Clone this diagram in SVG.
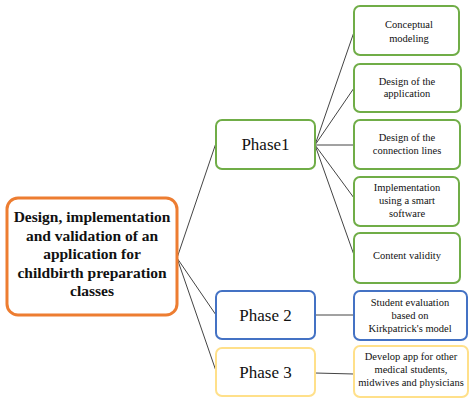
<svg xmlns="http://www.w3.org/2000/svg" width="474" height="403" viewBox="0 0 474 403">
<style>
.box{fill:#fff;stroke-width:2}
.g{stroke:#70ad47}.b{stroke:#4472c4}.y{stroke:#ffe08a}.o{stroke:#ed7d31;stroke-width:3}
.t{fill:#111;text-anchor:middle}
.s{font-size:10.5px}.p{font-size:17px}.m{font-size:15.5px;font-weight:bold}
#connectors line{stroke:#444;stroke-width:1}
</style>
<rect width="474" height="403" fill="#fff"/>
<g id="connectors">
<line x1="177" y1="258" x2="216" y2="143"/>
<line x1="177" y1="258" x2="216" y2="315"/>
<line x1="177" y1="258" x2="216" y2="371"/>
<line x1="315" y1="145" x2="354" y2="32"/>
<line x1="315" y1="145" x2="354" y2="88"/>
<line x1="315" y1="145" x2="354" y2="145"/>
<line x1="315" y1="145" x2="354" y2="198"/>
<line x1="315" y1="145" x2="354" y2="255"/>
<line x1="315" y1="315" x2="354" y2="315"/>
<line x1="315" y1="373" x2="354" y2="374"/>
</g>
<g font-family="Liberation Serif, Times New Roman, DejaVu Serif, serif">
<g id="main">
<rect class="box o" x="7" y="198" width="170" height="117" rx="11"/>
<text class="t m" x="92" y="222">Design, implementation</text>
<text class="t m" x="92" y="240.5">and validation of an</text>
<text class="t m" x="92" y="259">application for</text>
<text class="t m" x="92" y="277.5">childbirth preparation</text>
<text class="t m" x="92" y="296">classes</text>
</g>
<g id="phase1">
<rect class="box g" x="216" y="120" width="99" height="49" rx="6"/>
<text class="t p" x="265.5" y="150">Phase1</text>
</g>
<g id="phase2">
<rect class="box b" x="216" y="291" width="99" height="48" rx="6"/>
<text class="t p" x="265.5" y="321">Phase 2</text>
</g>
<g id="phase3">
<rect class="box y" x="216" y="348" width="99" height="48" rx="6"/>
<text class="t p" x="265.5" y="378">Phase 3</text>
</g>
<g id="conceptual">
<rect class="box g" x="354" y="6" width="105" height="49" rx="6"/>
<text class="t s" x="409" y="28">Conceptual</text>
<text class="t s" x="409" y="42">modeling</text>
</g>
<g id="designapp">
<rect class="box g" x="354" y="64" width="107" height="48" rx="6"/>
<text class="t s" x="407" y="85">Design of the</text>
<text class="t s" x="407" y="97">application</text>
</g>
<g id="connection">
<rect class="box g" x="354" y="120" width="106" height="49" rx="6"/>
<text class="t s" x="407" y="141">Design of the</text>
<text class="t s" x="407" y="154">connection lines</text>
</g>
<g id="implementation">
<rect class="box g" x="354" y="177" width="105" height="49" rx="6"/>
<text class="t s" x="407" y="191">Implementation</text>
<text class="t s" x="407" y="204">using a smart</text>
<text class="t s" x="407" y="217">software</text>
</g>
<g id="content">
<rect class="box g" x="354" y="233" width="106" height="50" rx="6"/>
<text class="t s" x="407" y="259">Content validity</text>
</g>
<g id="student">
<rect class="box b" x="354" y="291" width="113" height="49" rx="6"/>
<text class="t s" x="410" y="306">Student evaluation</text>
<text class="t s" x="410" y="319">based on</text>
<text class="t s" x="410" y="332">Kirkpatrick's model</text>
</g>
<g id="develop">
<rect class="box y" x="354" y="346" width="114" height="51" rx="6"/>
<text class="t s" x="411" y="360">Develop app for other</text>
<text class="t s" x="411" y="373">medical students,</text>
<text class="t s" x="411" y="386">midwives and physicians</text>
</g>
</g>
</svg>
